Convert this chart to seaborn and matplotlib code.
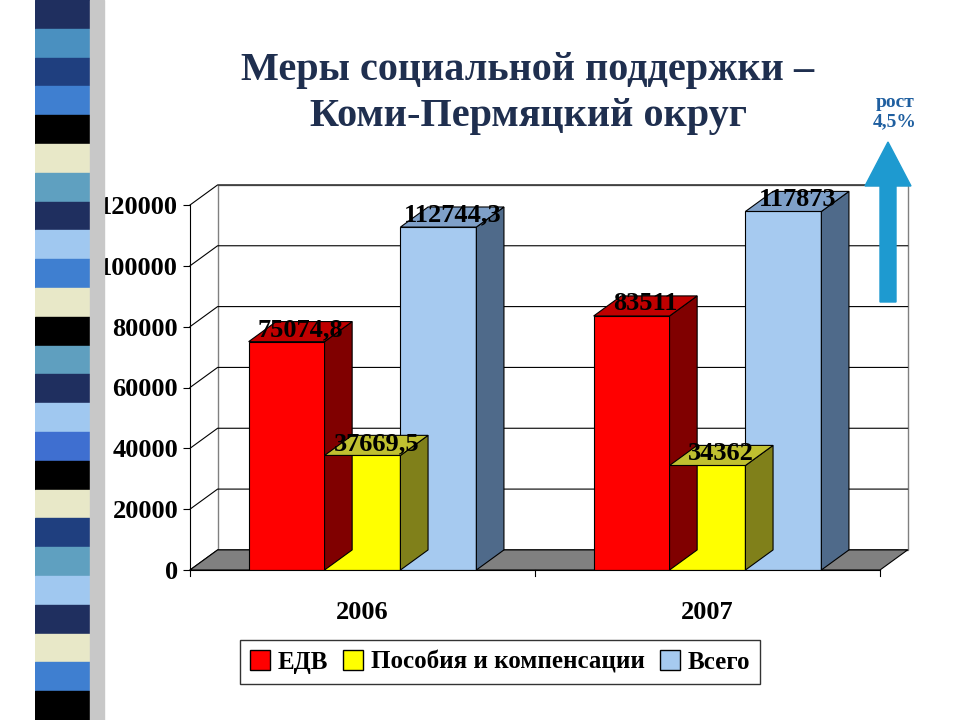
import numpy as np
import pandas as pd
import matplotlib
matplotlib.use("Agg")
import matplotlib.pyplot as plt
from matplotlib.patches import Polygon, Rectangle, FancyArrow
import seaborn as sns

years = ["2006", "2007"]
series = ["ЕДВ", "Пособия и компенсации", "Всего"]
edv = [75074.8, 83511]
posobiya = [37669.5, 34362]
vsego = [112744.3, 117873]
yticks = [0, 20000, 40000, 60000, 80000, 100000, 120000]

front = {"ЕДВ": "#FF0000", "Пособия и компенсации": "#FFFF00", "Всего": "#A6CAF0"}
side = {"ЕДВ": "#800000", "Пособия и компенсации": "#80801A", "Всего": "#4F6A8A"}
top = {"ЕДВ": "#C00000", "Пособия и компенсации": "#C0C030", "Всего": "#7FA0C8"}

stripe = ["#1F2F5F", "#4A90C0", "#1F3F7F", "#3F7FD0", "#000000", "#E8E8C8", "#5FA0C0",
          "#1F2F5F", "#A0C8F0", "#3F7FD0", "#E8E8C8", "#000000", "#5F9FBF", "#1F2F5F",
          "#A0C8F0", "#3F6FD0", "#000000", "#E8E8C8", "#1F3F7F", "#5FA0C0", "#A0C8F0",
          "#1F2F5F", "#E8E8C8", "#3F7FD0", "#000000"]

df = pd.DataFrame({"year": years * 3,
                   "series": sum([[s] * 2 for s in series], []),
                   "value": edv + posobiya + vsego})

plt.rcParams["font.family"] = "Liberation Serif"
plt.rcParams["font.weight"] = "bold"
fig = plt.figure(figsize=(9.6, 7.2), dpi=100)

# decorative stripe
sax = fig.add_axes([35 / 960, 0, 55 / 960, 1])
sax.set_axis_off()
n = len(stripe)
for i, c in enumerate(stripe):
    sax.add_patch(Rectangle((0, 1 - (i + 1) / n), 1, 1 / n, color=c))
sax.set_xlim(0, 1); sax.set_ylim(0, 1)
fig.add_artist(Rectangle((90 / 960, 0), 14 / 960, 1, color="#C8C8C8", transform=fig.transFigure))

ax = fig.add_axes([190 / 960, 1 - 570 / 720, 690 / 960, 365 / 720])
dx, dy = 0.08, 6600
x0, x1 = -0.5, 1.5

# back wall, floor, left wall
ax.add_patch(Polygon([(x0 + dx, dy), (x1 + dx, dy), (x1 + dx, 120000 + dy), (x0 + dx, 120000 + dy)],
                     closed=True, facecolor="white", edgecolor="#808080", lw=1, zorder=0, clip_on=False))
for t in yticks:
    ax.plot([x0, x0 + dx, x1 + dx], [t, t + dy, t + dy], color="black", lw=0.8, zorder=0.5, clip_on=False)
ax.add_patch(Polygon([(x0, 0), (x1, 0), (x1 + dx, dy), (x0 + dx, dy)], closed=True,
                     facecolor="#808080", edgecolor="black", lw=0.8, zorder=0.6, clip_on=False))

sns.barplot(data=df, x="year", y="value", hue="series", palette=front, width=0.66, saturation=1,
            edgecolor="black", linewidth=0.8, ax=ax, legend=False, zorder=2)

vals = {"ЕДВ": edv, "Пособия и компенсации": posobiya, "Всего": vsego}
for container, s in zip(ax.containers, series):
    for bar, v in zip(container, vals[s]):
        l, w, h = bar.get_x(), bar.get_width(), bar.get_height()
        r = l + w
        ax.add_patch(Polygon([(r, 0), (r + dx, dy), (r + dx, h + dy), (r, h)], closed=True,
                             facecolor=side[s], edgecolor="black", lw=0.8, zorder=2, clip_on=False))
        ax.add_patch(Polygon([(l, h), (r, h), (r + dx, h + dy), (l + dx, h + dy)], closed=True,
                             facecolor=top[s], edgecolor="black", lw=0.8, zorder=2, clip_on=False))
        lab = (f"{v:.1f}" if v % 1 else f"{v:.0f}").replace(".", ",")
        ax.text(l + w / 2 + dx / 2, h + dy * 0.6, lab, ha="center", va="center",
                fontsize=19, fontweight="bold", zorder=5)

ax.set_xlim(x0, x1)
ax.set_ylim(0, 120000)
ax.set_yticks(yticks)
ax.set_yticklabels([str(t) for t in yticks], fontsize=19, fontweight="bold")
ax.tick_params(axis="x", labelsize=19, length=0, pad=22)
ax.tick_params(axis="y", length=5)
ax.set_xlabel(""); ax.set_ylabel("")
for sp in ["top", "right", "bottom"]:
    ax.spines[sp].set_visible(False)
ax.plot([x0, x1], [0, 0], color="black", lw=0.8, clip_on=False, zorder=3)
for xt in [x0, 0.5, x1]:
    ax.plot([xt, xt], [0, -2000], color="black", lw=0.8, clip_on=False)

fig.text(0.55, 0.87, "Меры социальной поддержки –\nКоми-Пермяцкий округ", ha="center", va="center",
         fontsize=29, fontweight="bold", color="#1F2F4F", linespacing=1.3)
fig.text(895 / 960, 1 - 112 / 720, "рост\n4,5%", ha="center", va="center", fontsize=14,
         fontweight="bold", color="#1F5FA0")
fig.add_artist(FancyArrow(888 / 960, 1 - 302 / 720, 0, 160 / 720, width=16 / 960,
                          head_width=46 / 960, head_length=44 / 720, length_includes_head=True,
                          color="#1E9AD0", transform=fig.transFigure))

handles = [Rectangle((0, 0), 1, 1, facecolor=front[s], edgecolor="black") for s in series]
fig.legend(handles, series, loc="center", bbox_to_anchor=(500 / 960, 1 - 662 / 720), ncol=3,
           fontsize=18, frameon=True, edgecolor="black", fancybox=False, handlelength=0.8,
           handleheight=0.8, handletextpad=0.3, columnspacing=0.6, borderpad=0.4)

fig.savefig("out.png", dpi=100)
